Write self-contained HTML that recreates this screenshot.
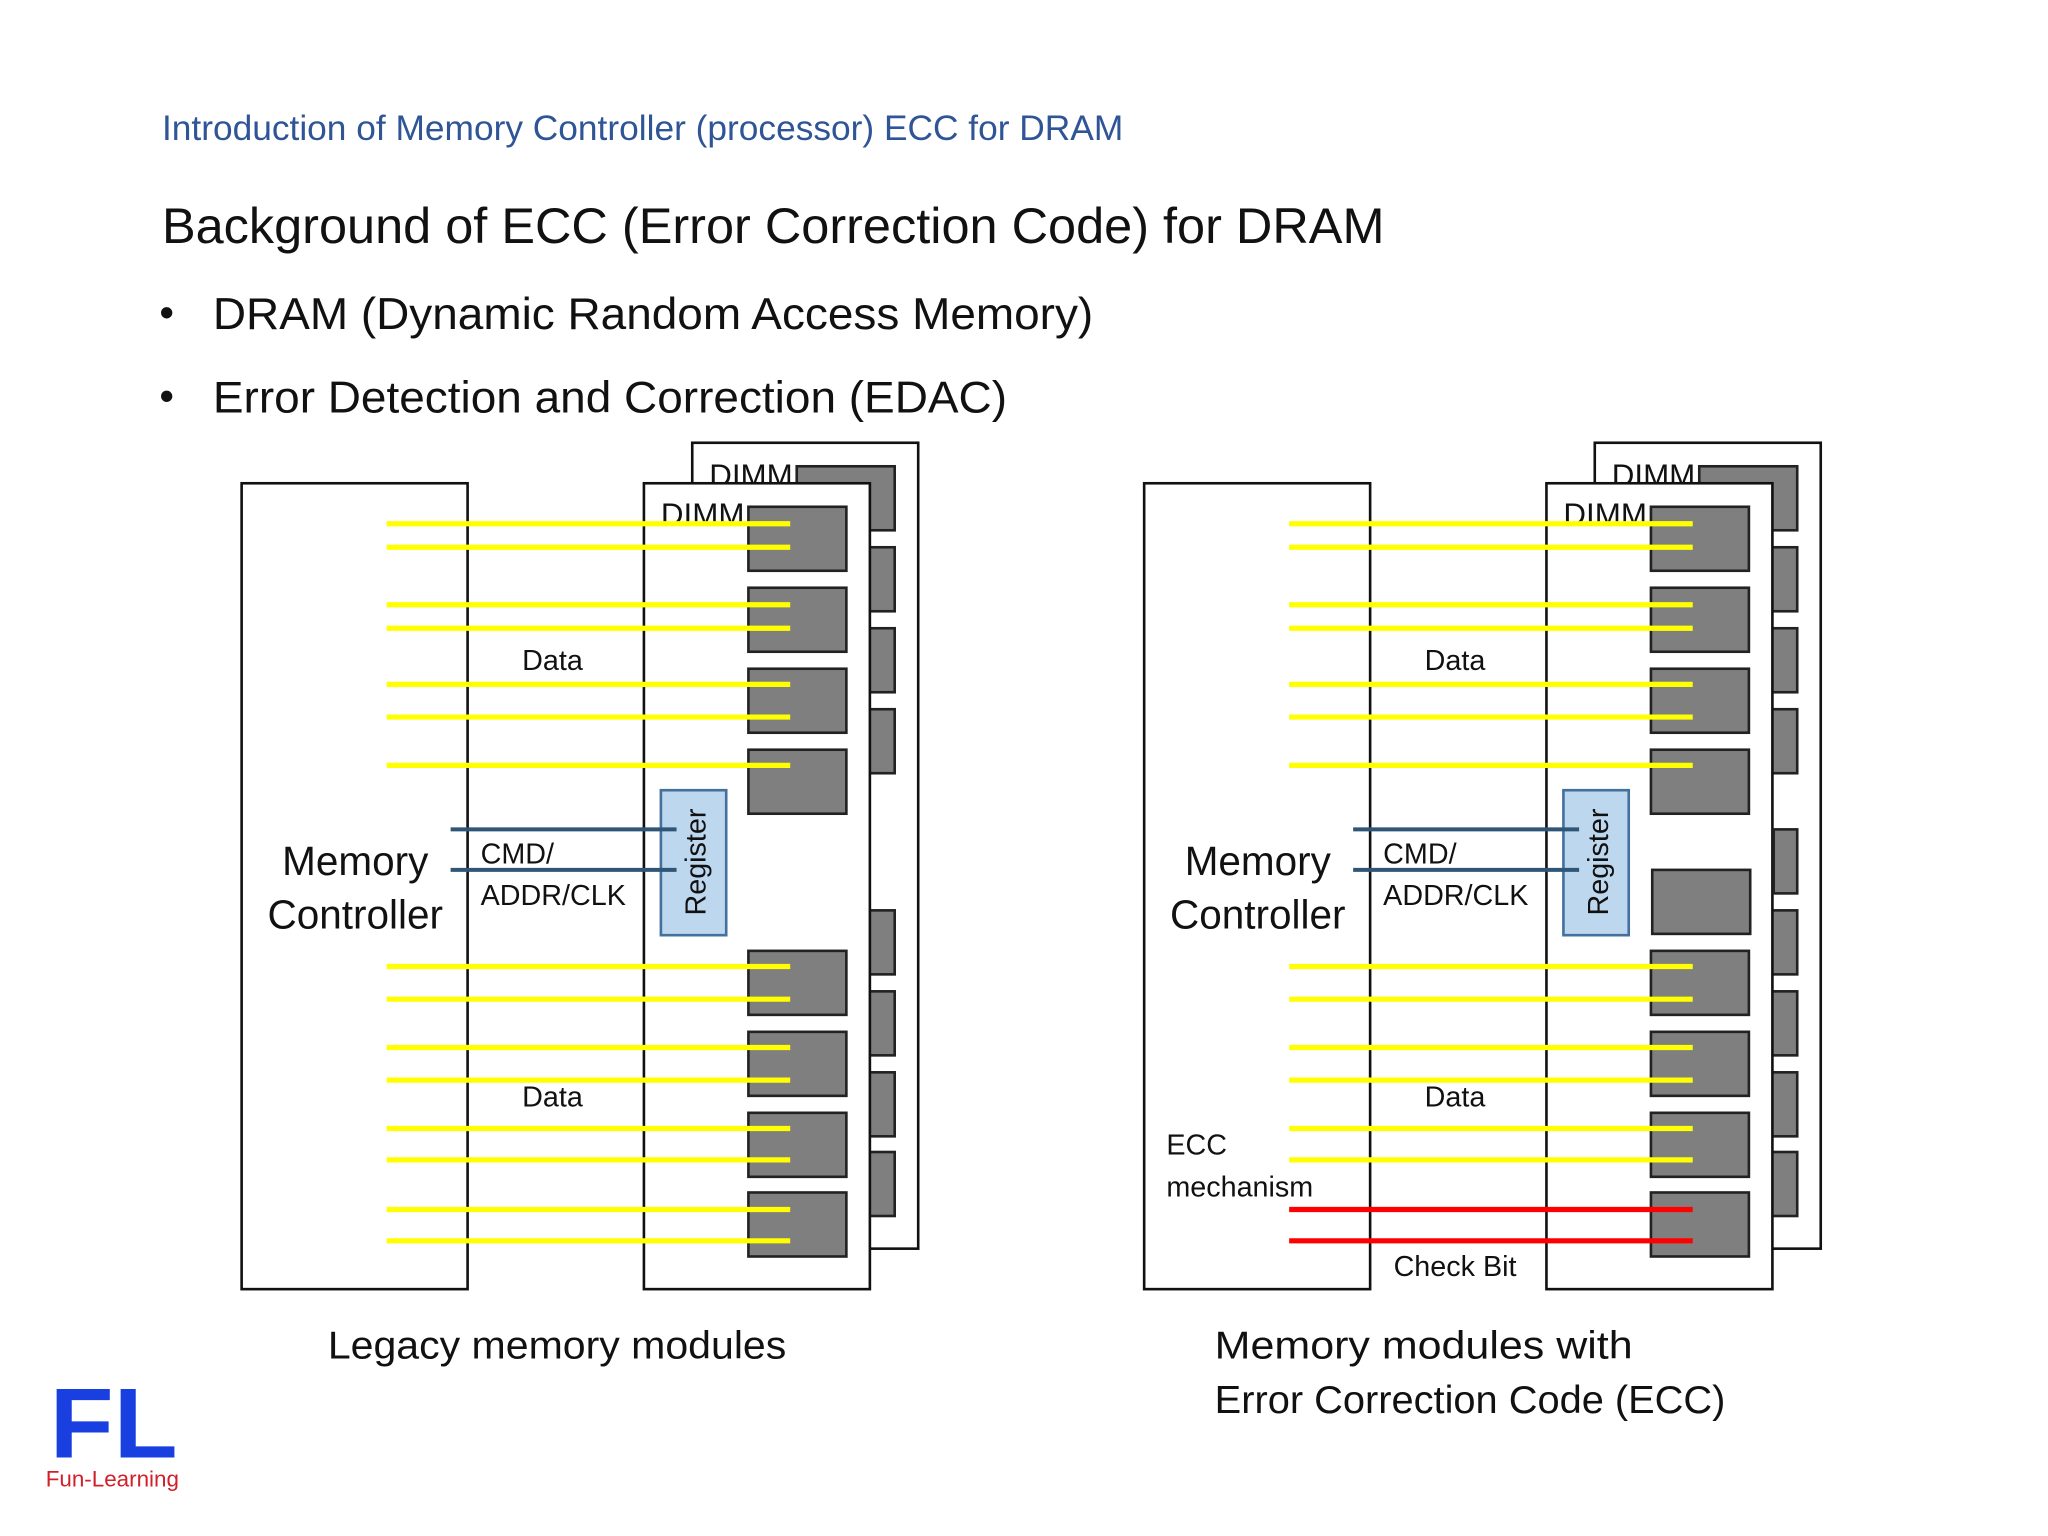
<!DOCTYPE html>
<html><head><meta charset="utf-8"><style>html,body{margin:0;padding:0;background:#fff}svg{display:block}</style></head>
<body>
<svg width="2048" height="1536" viewBox="0 0 1568 1176" xmlns="http://www.w3.org/2000/svg" font-family="Liberation Sans, DejaVu Sans, sans-serif">
<rect width="1568" height="1176" fill="#fff"/>
<text x="124" y="107" font-size="27" fill="#2f5597" textLength="736" lengthAdjust="spacingAndGlyphs">Introduction of Memory Controller (processor) ECC for DRAM</text>
<text x="124" y="186" font-size="38" fill="#111" textLength="936" lengthAdjust="spacingAndGlyphs">Background of ECC (Error Correction Code) for DRAM</text>
<text x="122" y="250" font-size="32" fill="#111">•</text>
<text x="163" y="252" font-size="34" fill="#111" textLength="674" lengthAdjust="spacingAndGlyphs">DRAM (Dynamic Random Access Memory)</text>
<text x="122" y="314" font-size="32" fill="#111">•</text>
<text x="163" y="316" font-size="34" fill="#111" textLength="608" lengthAdjust="spacingAndGlyphs">Error Detection and Correction (EDAC)</text>

<defs>
<g id="diag">
  <rect x="185" y="370" width="173" height="617" fill="#fff" stroke="#111" stroke-width="2"/>
  <rect x="530" y="339" width="173" height="617" fill="#fff" stroke="#111" stroke-width="2"/>
  <text x="543" y="372" font-size="24" fill="#111">DIMM</text>
  <g fill="#7f7f7f" stroke="#222" stroke-width="2">
    <rect x="610" y="357" width="75" height="49"/><rect x="610" y="419" width="75" height="49"/>
    <rect x="610" y="481" width="75" height="49"/><rect x="610" y="543" width="75" height="49"/>
    <rect x="610" y="697" width="75" height="49"/><rect x="610" y="759" width="75" height="49"/>
    <rect x="610" y="821" width="75" height="49"/><rect x="610" y="882" width="75" height="49"/>
  </g>
  <rect x="493" y="370" width="173" height="617" fill="#fff" stroke="#111" stroke-width="2"/>
  <text x="506" y="402" font-size="24" fill="#111">DIMM</text>
  <g fill="#7f7f7f" stroke="#222" stroke-width="2">
    <rect x="573" y="388" width="75" height="49"/><rect x="573" y="450" width="75" height="49"/>
    <rect x="573" y="512" width="75" height="49"/><rect x="573" y="574" width="75" height="49"/>
    <rect x="573" y="728" width="75" height="49"/><rect x="573" y="790" width="75" height="49"/>
    <rect x="573" y="852" width="75" height="49"/><rect x="573" y="913" width="75" height="49"/>
  </g>
  <g stroke="#ffff00" stroke-width="4">
    <line x1="296" y1="401" x2="605" y2="401"/><line x1="296" y1="419" x2="605" y2="419"/>
    <line x1="296" y1="463" x2="605" y2="463"/><line x1="296" y1="481" x2="605" y2="481"/>
    <line x1="296" y1="524" x2="605" y2="524"/><line x1="296" y1="549" x2="605" y2="549"/>
    <line x1="296" y1="586" x2="605" y2="586"/>
    <line x1="296" y1="740" x2="605" y2="740"/><line x1="296" y1="765" x2="605" y2="765"/>
    <line x1="296" y1="802" x2="605" y2="802"/><line x1="296" y1="827" x2="605" y2="827"/>
    <line x1="296" y1="864" x2="605" y2="864"/><line x1="296" y1="888" x2="605" y2="888"/>
  </g>
  <rect x="506" y="605" width="50" height="111" fill="#bdd7ee" stroke="#41719c" stroke-width="2"/>
  <text transform="translate(540,660) rotate(-90)" text-anchor="middle" font-size="22" fill="#111">Register</text>
  <g stroke="#2f5577" stroke-width="3">
    <line x1="345" y1="635" x2="518" y2="635"/><line x1="345" y1="666" x2="518" y2="666"/>
  </g>
  <text x="423" y="513" text-anchor="middle" font-size="22" fill="#111">Data</text>
  <text x="423" y="847" text-anchor="middle" font-size="22" fill="#111">Data</text>
  <text x="368" y="661" font-size="22" fill="#111">CMD/</text>
  <text x="368" y="693" font-size="22" fill="#111">ADDR/CLK</text>
  <text x="272" y="670" text-anchor="middle" font-size="31" fill="#111">Memory</text>
  <text x="272" y="711" text-anchor="middle" font-size="31" fill="#111">Controller</text>
</g>
</defs>

<use href="#diag"/>
<g stroke="#ffff00" stroke-width="4">
  <line x1="296" y1="926" x2="605" y2="926"/><line x1="296" y1="950" x2="605" y2="950"/>
</g>
<text x="251" y="1040" font-size="30" fill="#111" textLength="351" lengthAdjust="spacingAndGlyphs">Legacy memory modules</text>

<g transform="translate(691,0)">
  <use href="#diag"/>
</g>
<rect x="1358" y="635" width="18" height="49" fill="#7f7f7f" stroke="#222" stroke-width="2"/>
<rect x="1265" y="666" width="75" height="49" fill="#7f7f7f" stroke="#222" stroke-width="2"/>
<g stroke="#ff0000" stroke-width="4">
  <line x1="987" y1="926" x2="1296" y2="926"/><line x1="987" y1="950" x2="1296" y2="950"/>
</g>
<text x="893" y="884" font-size="22" fill="#111">ECC</text>
<text x="893" y="916" font-size="22" fill="#111">mechanism</text>
<text x="1114" y="977" text-anchor="middle" font-size="22" fill="#111">Check Bit</text>
<text x="930" y="1040" font-size="30" fill="#111" textLength="320" lengthAdjust="spacingAndGlyphs">Memory modules with</text>
<text x="930" y="1082" font-size="30" fill="#111" textLength="391" lengthAdjust="spacingAndGlyphs">Error Correction Code (ECC)</text>

<text x="38" y="1116" font-size="76" font-weight="bold" fill="#1a3fe0" textLength="98" lengthAdjust="spacingAndGlyphs">FL</text>
<text x="35" y="1138" font-size="17" fill="#d0202a" textLength="102" lengthAdjust="spacingAndGlyphs">Fun-Learning</text>
</svg>
</body></html>
